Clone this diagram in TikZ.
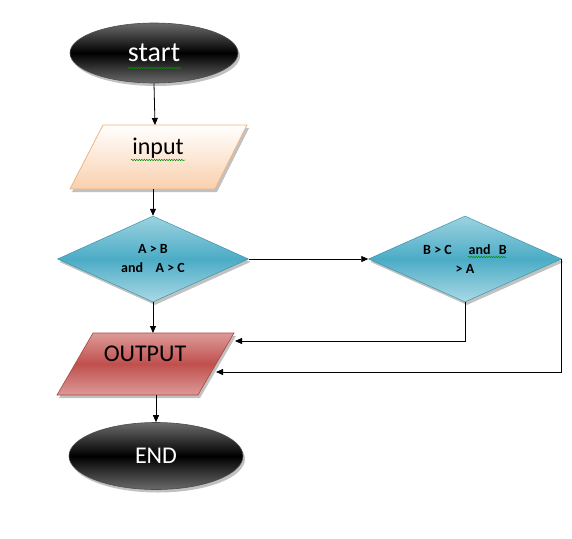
\documentclass[tikz,border=0pt]{standalone}
\usepackage{fontspec}
\setmainfont{Carlito}
\usetikzlibrary{shapes.geometric,shadows,arrows.meta,decorations.pathmorphing}
\definecolor{peach}{HTML}{F9D0AD}
\definecolor{peachline}{HTML}{F0B47E}
\definecolor{teal1}{HTML}{4BACC6}
\definecolor{teal2}{HTML}{9DD2E0}
\definecolor{teal3}{HTML}{3A93AB}
\definecolor{red1}{HTML}{C0504D}
\definecolor{red2}{HTML}{DC9A98}
\definecolor{red3}{HTML}{A94542}
\tikzset{
  shad/.style={drop shadow={shadow xshift=2pt,shadow yshift=-3pt,opacity=0.35,fill=black!70}},
  term/.style={ellipse,draw=black!70,line width=0.6pt,top color=black!58,bottom color=black!58,middle color=black,
    text=white,font=\fontsize{24}{28}\selectfont,inner sep=0pt,shad},
  inbox/.style={draw=peachline,line width=0.8pt,top color=white,bottom color=peach,shad},
  outbox/.style={draw=red3,line width=0.6pt,top color=red2,bottom color=red2,middle color=red1,shad},
  decision/.style={diamond,draw=teal3,line width=0.5pt,top color=teal2,bottom color=teal2!85!white,middle color=teal1,
    inner sep=0pt,shad},
  dtext/.style={font=\fontsize{14}{19}\selectfont\bfseries,align=center},
  arr/.style={draw=black,line width=0.8pt,-{Triangle[length=7pt,width=6pt]}},
  spell/.style={draw=green!55!black,line width=0.5pt,decorate,decoration={snake,segment length=2.5pt,amplitude=0.7pt}}
}
\begin{document}
\begin{tikzpicture}[x=1pt,y=-1pt]
\useasboundingbox (0,0) rectangle (572,538);
% terminals
\node[term,minimum width=168pt,minimum height=60pt,font=\fontsize{28}{32}\selectfont] (start) at (154,53) {start};
\node[term,minimum width=174pt,minimum height=67pt] (end) at (156,456) {END};
% input parallelogram
\path[inbox] (103,125) -- (247,125) -- (215,189) -- (70,189) -- cycle;
\node[font=\fontsize{24}{28}\selectfont] (input) at (158,148) {input};
\coordinate (inT) at (155,125);
\coordinate (inB) at (153,189);
% decisions
\node[decision,minimum width=191pt,minimum height=86pt] (d1) at (153,259) {};
\node[dtext] (d1t) at (153,259) {A > B\\and\hspace{0.9em}A > C};
\node[decision,minimum width=193pt,minimum height=86pt] (d2) at (465,259) {};
\node[dtext] (d2t) at (465,259) {B > C\hspace{1.2em}and\hspace{0.6em}B\\> A};
% output parallelogram
\path[outbox] (93,333) -- (234,333) -- (198,395) -- (57,395) -- cycle;
\node[font=\fontsize{24}{28}\selectfont] (out) at (145,354) {OUTPUT};
\coordinate (outT) at (153,333);
\coordinate (outR1) at (235,341);
\coordinate (outR2) at (216,372);
\coordinate (outB) at (156,395);
% spell-check underlines
\draw[spell] (128,68) -- (181,68);
\draw[spell] (131,160) -- (185,160);
\draw[spell] (468,257) -- (506,257);
% connectors
\draw[arr] (start.south) -- (inT);
\draw[arr] (inB) -- (d1.north);
\draw[arr] (d1.east) -- (d2.west);
\draw[arr] (d1.south) -- (outT);
\draw[arr] (d2.south) |- (outR1);
\draw[arr] (d2.east) |- (outR2);
\draw[arr] (outB) -- (end.north);
\end{tikzpicture}
\end{document}
